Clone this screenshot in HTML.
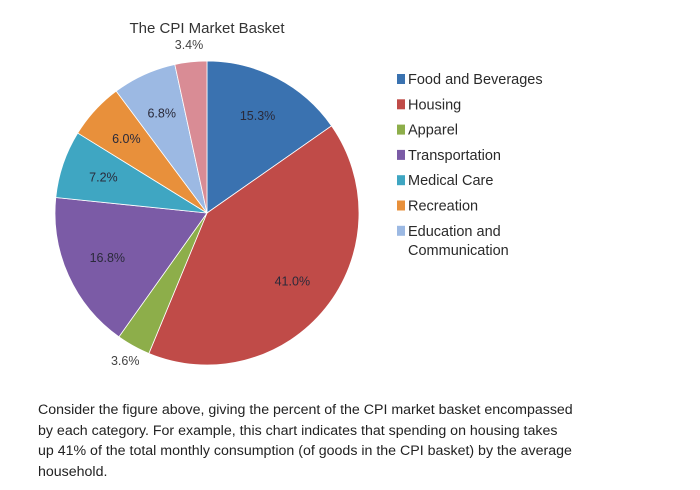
<!DOCTYPE html>
<html><head><meta charset="utf-8"><style>
body{margin:0;width:700px;height:490px;background:#fff;font-family:"Liberation Sans",sans-serif;overflow:hidden;position:relative}
svg{position:absolute;left:0;top:0}
#para{position:absolute;left:38px;top:400px;width:640px;font-size:14.2px;line-height:20.7px;color:#222;white-space:nowrap}
</style></head><body>
<svg id="chart" width="700" height="400"></svg>
<div id="para">Consider the figure above, giving the percent of the CPI market basket encompassed<br>by each category. For example, this chart indicates that spending on housing takes<br>up 41% of the total monthly consumption (of goods in the CPI basket) by the average<br>household.</div>
<script>
const categories=["Food and Beverages","Housing","Apparel","Transportation","Medical Care","Recreation","Education and Communication","Other"];
const values=[15.3,41.0,3.6,16.8,7.2,6.0,6.8,3.4];
const labels=["15.3%","41.0%","3.6%","16.8%","7.2%","6.0%","6.8%","3.4%"];
const colors=["#3a72b0","#c04b48","#8dae4a","#7b5ba6","#3fa6c2","#e8903b","#9cb9e3","#d98c95"];
const legendItems=[0,1,2,3,4,5,6];
const NS="http://www.w3.org/2000/svg";
const svg=document.getElementById('chart');
const cx=207,cy=213,r=152;
const total=values.reduce((a,b)=>a+b,0);
function ang(v){return v/total*2*Math.PI;}
function pt(a,rr){return [cx+rr*Math.sin(a),cy-rr*Math.cos(a)];}
function mk(t,attrs){const e=document.createElementNS(NS,t);for(const k in attrs)e.setAttribute(k,attrs[k]);return e;}
const title=mk('text',{x:207,y:33,'text-anchor':'middle','font-size':'15',fill:'#333'});
title.textContent="The CPI Market Basket";


svg.appendChild(title);
let acc=0;
values.forEach((v,i)=>{
  const a0=ang(acc),a1=ang(acc+v);acc+=v;
  const p0=pt(a0,r),p1=pt(a1,r);
  const large=(a1-a0)>Math.PI?1:0;
  const p=mk('path',{d:`M${cx},${cy}L${p0[0]},${p0[1]}A${r},${r} 0 ${large} 1 ${p1[0]},${p1[1]}Z`,fill:colors[i],stroke:'#fff','stroke-width':'0.8'});
  
  
  svg.appendChild(p);
  const am=(a0+a1)/2;
  const outside=v<5;
  const lp=pt(am,outside?r+17:r*0.72);
  const t=mk('text',{x:lp[0],y:lp[1]+4,'text-anchor':'middle','font-size':'12.5',fill:outside?'#444':'#2a2a3a'});
  t.textContent=labels[i];
  
  
  svg.appendChild(t);
});
legendItems.forEach((idx,j)=>{
  const y=84+j*25.3;
  const s=mk('rect',{x:397,y:y-10,width:8,height:10,fill:colors[idx]});
  
  
  svg.appendChild(s);
  const words=categories[idx]==="Education and Communication"?["Education and","Communication"]:[categories[idx]];
  words.forEach((w,k)=>{
    const t=mk('text',{x:408,y:y+k*19,'font-size':'14.5',fill:'#2a2a2a'});
    t.textContent=w;
    
    
    svg.appendChild(t);
  });
});
</script>
</body></html>
